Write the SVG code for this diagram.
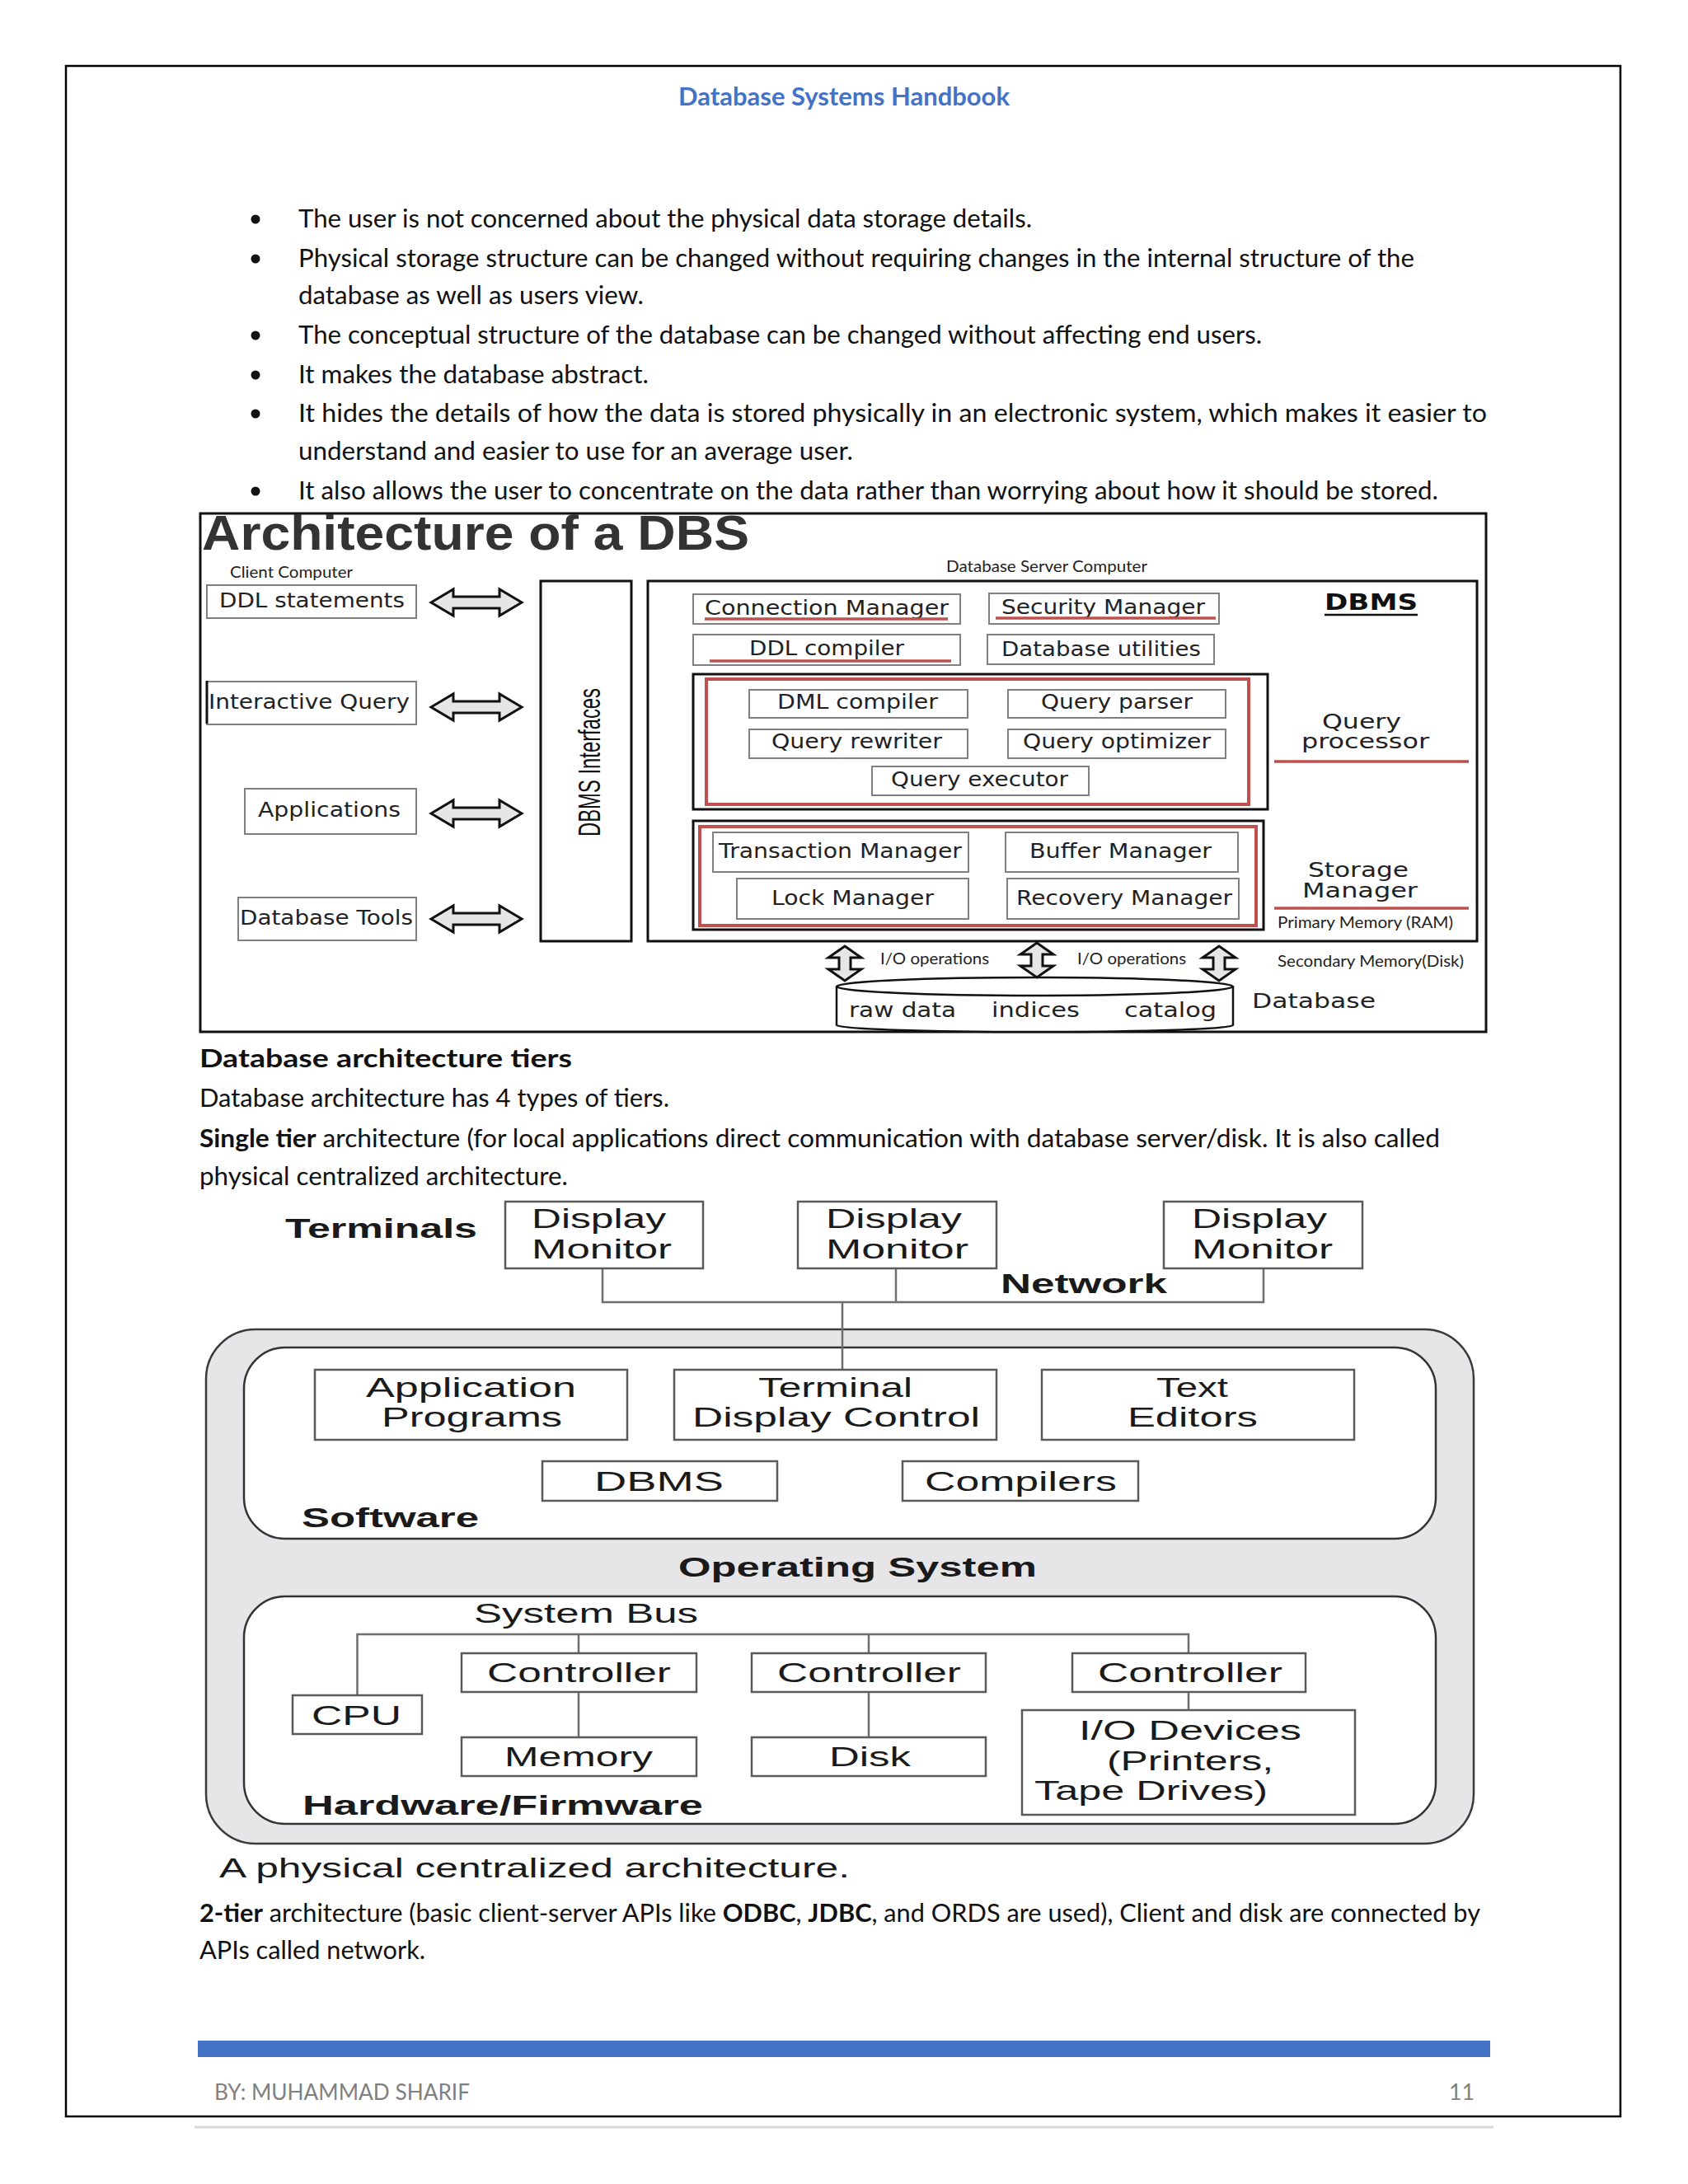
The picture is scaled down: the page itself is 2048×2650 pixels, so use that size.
<svg xmlns="http://www.w3.org/2000/svg" width="2048" height="2650" viewBox="0 0 2048 2650">
<style>
.body{font-family:Lato,"Liberation Sans",sans-serif;font-size:30px;fill:#111}
.b{font-weight:bold}
.hdr{font-family:Lato,"Liberation Sans",sans-serif;font-size:30px;font-weight:bold;fill:#4472C4}
.ftr{font-family:Lato,"Liberation Sans",sans-serif;font-size:26px;fill:#808080}
.sm{font-family:Lato,"Liberation Sans",sans-serif;font-size:19px;fill:#222}
.lbl{font-family:"DejaVu Sans",sans-serif;font-size:24px;fill:#222}
.ca{font-family:"Liberation Sans",Arial,sans-serif;font-size:33px;fill:#1a1a1a}
.box{fill:#fff;stroke:#808080;stroke-width:2}
.blk{fill:none;stroke:#111;stroke-width:3}
.red{fill:none;stroke:#c0504d;stroke-width:4}
.redl{stroke:#c0504d;stroke-width:3.5}
.net{fill:none;stroke:#6e6e6e;stroke-width:2.5}
.cbox{fill:#fff;stroke:#5a5a5a;stroke-width:2.5}
.arr{fill:#e6e6e6;stroke:#111;stroke-width:3;stroke-linejoin:miter}
</style>
<defs>
<polygon id="harrow" class="arr" points="-55,0 -28,-16 -28,-7 28,-7 28,-16 55,0 28,16 28,7 -28,7 -28,16"/>
<polygon id="varrow" class="arr" points="0,-21 20,-7 7,-7 7,7 20,7 0,21 -20,7 -7,7 -7,-7 -20,-7"/>
</defs>
<rect x="0" y="0" width="2048" height="2650" fill="#fff"/>
<rect x="80" y="80" width="1886" height="2488" fill="none" stroke="#000" stroke-width="2.5"/>
<text class="hdr" x="823" y="128" textLength="402" lengthAdjust="spacingAndGlyphs">Database Systems Handbook</text>

<g id="bullets">
<circle cx="310" cy="266" r="5.5" fill="#111"/>
<circle cx="310" cy="314" r="5.5" fill="#111"/>
<circle cx="310" cy="407" r="5.5" fill="#111"/>
<circle cx="310" cy="455" r="5.5" fill="#111"/>
<circle cx="310" cy="502" r="5.5" fill="#111"/>
<circle cx="310" cy="596" r="5.5" fill="#111"/>
<text class="body" x="362" y="276" textLength="890" lengthAdjust="spacingAndGlyphs">The user is not concerned about the physical data storage details.</text>
<text class="body" x="362" y="324" textLength="1354" lengthAdjust="spacingAndGlyphs">Physical storage structure can be changed without requiring changes in the internal structure of the</text>
<text class="body" x="362" y="369" textLength="419" lengthAdjust="spacingAndGlyphs">database as well as users view.</text>
<text class="body" x="362" y="417" textLength="1169" lengthAdjust="spacingAndGlyphs">The conceptual structure of the database can be changed without affecting end users.</text>
<text class="body" x="362" y="465" textLength="425" lengthAdjust="spacingAndGlyphs">It makes the database abstract.</text>
<text class="body" x="362" y="512" textLength="1442" lengthAdjust="spacingAndGlyphs">It hides the details of how the data is stored physically in an electronic system, which makes it easier to</text>
<text class="body" x="362" y="558" textLength="673" lengthAdjust="spacingAndGlyphs">understand and easier to use for an average user.</text>
<text class="body" x="362" y="606" textLength="1383" lengthAdjust="spacingAndGlyphs">It also allows the user to concentrate on the data rather than worrying about how it should be stored.</text>
</g>

<!-- Architecture of a DBS -->
<g id="dbs-frame">
<rect x="243" y="623" width="1560" height="629" fill="#fff" stroke="#111" stroke-width="3"/>
<text x="245" y="667" font-family="'Liberation Sans',Arial,sans-serif" font-size="59" font-weight="bold" fill="#333" textLength="664" lengthAdjust="spacingAndGlyphs">Architecture of a DBS</text>
<text class="sm" x="279" y="701" textLength="149" lengthAdjust="spacingAndGlyphs">Client Computer</text>
<text class="sm" x="1148" y="694" textLength="244" lengthAdjust="spacingAndGlyphs">Database Server Computer</text>
</g>
<g id="ddl-statements"><rect class="box" x="251" y="710" width="254" height="40"/><text class="lbl" x="266" y="737" textLength="225" lengthAdjust="spacingAndGlyphs">DDL statements</text></g>
<g id="interactive-query"><rect class="box" x="251" y="827" width="254" height="52"/><line x1="251" y1="826" x2="251" y2="878" stroke="#111" stroke-width="3"/><text class="lbl" x="253" y="860" textLength="244" lengthAdjust="spacingAndGlyphs">Interactive Query</text></g>
<g id="applications"><rect class="box" x="297" y="957" width="208" height="55"/><text class="lbl" x="313" y="991" textLength="173" lengthAdjust="spacingAndGlyphs">Applications</text></g>
<g id="database-tools"><rect class="box" x="289" y="1089" width="216" height="52"/><text class="lbl" x="291" y="1122" textLength="210" lengthAdjust="spacingAndGlyphs">Database Tools</text></g>
<g id="dbms-interfaces"><rect x="656" y="705" width="110" height="437" class="blk"/><text transform="translate(728,925) rotate(-90)" text-anchor="middle" font-family="'Liberation Sans',Arial,sans-serif" font-size="36" fill="#111" textLength="180" lengthAdjust="spacingAndGlyphs">DBMS Interfaces</text></g>
<g id="dbms">
<rect x="786" y="705" width="1006" height="437" class="blk"/>
<text x="1607" y="740" font-family="'DejaVu Sans',sans-serif" font-size="26" font-weight="bold" fill="#111" textLength="113" lengthAdjust="spacingAndGlyphs">DBMS</text>
<line x1="1607" y1="746" x2="1720" y2="746" stroke="#111" stroke-width="2.5"/>
</g>
<g id="connection-manager"><rect class="box" x="841" y="721" width="324" height="36"/><text class="lbl" x="855" y="746" textLength="296" lengthAdjust="spacingAndGlyphs">Connection Manager</text><line class="redl" x1="855" y1="751" x2="1150" y2="751"/></g>
<g id="security-manager"><rect class="box" x="1200" y="720" width="279" height="37"/><text class="lbl" x="1215" y="745" textLength="247" lengthAdjust="spacingAndGlyphs">Security Manager</text><line class="redl" x1="1208" y1="750" x2="1475" y2="750"/></g>
<g id="ddl-compiler"><rect class="box" x="841" y="770" width="324" height="37"/><text class="lbl" x="909" y="795" textLength="188" lengthAdjust="spacingAndGlyphs">DDL compiler</text><line class="redl" x1="861" y1="802" x2="1154" y2="802"/></g>
<g id="database-utilities"><rect class="box" x="1198" y="770" width="275" height="36"/><text class="lbl" x="1215" y="796" textLength="242" lengthAdjust="spacingAndGlyphs">Database utilities</text></g>
<g id="query-processor">
<rect x="841" y="818" width="697" height="164" class="blk"/>
<rect x="857" y="824" width="658" height="152" class="red"/>
<text class="lbl" x="1604" y="884" font-size="27" textLength="96" lengthAdjust="spacingAndGlyphs">Query</text>
<text class="lbl" x="1579" y="908" font-size="27" textLength="155" lengthAdjust="spacingAndGlyphs">processor</text>
<line class="redl" x1="1546" y1="924" x2="1782" y2="924" stroke-width="4"/>
</g>
<g id="dml-compiler"><rect class="box" x="909" y="837" width="265" height="34"/><text class="lbl" x="943" y="860" textLength="195" lengthAdjust="spacingAndGlyphs">DML compiler</text></g>
<g id="query-parser"><rect class="box" x="1223" y="837" width="264" height="34"/><text class="lbl" x="1263" y="860" textLength="184" lengthAdjust="spacingAndGlyphs">Query parser</text></g>
<g id="query-rewriter"><rect class="box" x="909" y="885" width="265" height="35"/><text class="lbl" x="936" y="908" textLength="207" lengthAdjust="spacingAndGlyphs">Query rewriter</text></g>
<g id="query-optimizer"><rect class="box" x="1223" y="885" width="264" height="35"/><text class="lbl" x="1241" y="908" textLength="228" lengthAdjust="spacingAndGlyphs">Query optimizer</text></g>
<g id="query-executor"><rect class="box" x="1058" y="930" width="263" height="35"/><text class="lbl" x="1081" y="954" textLength="215" lengthAdjust="spacingAndGlyphs">Query executor</text></g>
<g id="storage-manager">
<rect x="841" y="996" width="692" height="132" class="blk"/>
<rect x="849" y="1003" width="675" height="120" class="red"/>
<text class="lbl" x="1587" y="1064" font-size="27" textLength="122" lengthAdjust="spacingAndGlyphs">Storage</text>
<text class="lbl" x="1580" y="1089" font-size="27" textLength="140" lengthAdjust="spacingAndGlyphs">Manager</text>
<line class="redl" x1="1546" y1="1102" x2="1782" y2="1102" stroke-width="4"/>
<text class="sm" x="1550" y="1126" textLength="213" lengthAdjust="spacingAndGlyphs">Primary Memory (RAM)</text>
</g>
<g id="transaction-manager"><rect class="box" x="865" y="1010" width="310" height="48"/><text class="lbl" x="872" y="1041" textLength="295" lengthAdjust="spacingAndGlyphs">Transaction Manager</text></g>
<g id="buffer-manager"><rect class="box" x="1220" y="1010" width="282" height="48"/><text class="lbl" x="1249" y="1041" textLength="221" lengthAdjust="spacingAndGlyphs">Buffer Manager</text></g>
<g id="lock-manager"><rect class="box" x="894" y="1066" width="281" height="49"/><text class="lbl" x="936" y="1098" textLength="197" lengthAdjust="spacingAndGlyphs">Lock Manager</text></g>
<g id="recovery-manager"><rect class="box" x="1222" y="1066" width="281" height="49"/><text class="lbl" x="1233" y="1098" textLength="262" lengthAdjust="spacingAndGlyphs">Recovery Manager</text></g>
<g id="database">
<path d="M1015,1197 L1015,1244 A240.5,8 0 0 0 1496,1244 L1496,1197" fill="#fff" stroke="#111" stroke-width="2.5"/>
<ellipse cx="1255.5" cy="1197" rx="240.5" ry="11" fill="#fff" stroke="#111" stroke-width="2.5"/>
<text class="lbl" x="1030" y="1234" font-size="29" textLength="130" lengthAdjust="spacingAndGlyphs">raw data</text>
<text class="lbl" x="1203" y="1234" font-size="29" textLength="107" lengthAdjust="spacingAndGlyphs">indices</text>
<text class="lbl" x="1364" y="1234" font-size="29" textLength="112" lengthAdjust="spacingAndGlyphs">catalog</text>
<text class="lbl" x="1519" y="1223" font-size="28" textLength="150" lengthAdjust="spacingAndGlyphs">Database</text>
<text class="sm" x="1550" y="1173" textLength="226" lengthAdjust="spacingAndGlyphs">Secondary Memory(Disk)</text>
</g>
<g id="dbs-connectors">
<use href="#harrow" x="578" y="731"/>
<use href="#harrow" x="578" y="858"/>
<use href="#harrow" x="578" y="987"/>
<use href="#harrow" x="578" y="1115"/>
<use href="#varrow" x="1025" y="1169"/>
<use href="#varrow" x="1258" y="1165"/>
<use href="#varrow" x="1479" y="1169"/>
<text class="sm" x="1068" y="1170" textLength="132" lengthAdjust="spacingAndGlyphs">I/O operations</text>
<text class="sm" x="1307" y="1170" textLength="132" lengthAdjust="spacingAndGlyphs">I/O operations</text>
</g>

<g id="tiers-text">
<text class="body b" x="242" y="1295" font-size="35" textLength="452" lengthAdjust="spacingAndGlyphs">Database architecture tiers</text>
<text class="body" x="242" y="1343" textLength="570" lengthAdjust="spacingAndGlyphs">Database architecture has 4 types of tiers.</text>
<text class="body" x="242" y="1392" textLength="1505" lengthAdjust="spacingAndGlyphs"><tspan font-weight="bold">Single tier</tspan> architecture (for local applications direct communication with database server/disk. It is also called</text>
<text class="body" x="242" y="1438" textLength="447" lengthAdjust="spacingAndGlyphs">physical centralized architecture.</text>
</g>

<!-- Centralized architecture -->
<g id="os">
<rect x="250" y="1613" width="1538" height="624" rx="60" fill="#e6e6e9" stroke="#3a3a3a" stroke-width="2.5"/>
<text class="ca b" x="823" y="1913" textLength="435" lengthAdjust="spacingAndGlyphs">Operating System</text>
</g>
<g id="software">
<rect x="296" y="1635" width="1446" height="232" rx="50" fill="#fff" stroke="#333" stroke-width="2.5"/>
<text class="ca b" x="366" y="1853" textLength="215" lengthAdjust="spacingAndGlyphs">Software</text>
</g>
<g id="hardware">
<rect x="296" y="1937" width="1446" height="276" rx="50" fill="#fff" stroke="#333" stroke-width="2.5"/>
<text class="ca b" x="367" y="2202" textLength="486" lengthAdjust="spacingAndGlyphs">Hardware/Firmware</text>
<text class="ca" x="575" y="1969" textLength="272" lengthAdjust="spacingAndGlyphs">System Bus</text>
</g>
<g id="connectors">
<polyline class="net" points="731,1539 731,1580 1533,1580 1533,1539"/>
<line class="net" x1="1087" y1="1539" x2="1087" y2="1580"/>
<line class="net" x1="1022" y1="1580" x2="1022" y2="1662"/>
<polyline class="net" points="433.5,2057 433.5,1983 1442,1983 1442,2006"/>
<line class="net" x1="702" y1="1983" x2="702" y2="2006"/>
<line class="net" x1="1054" y1="1983" x2="1054" y2="2006"/>
<line class="net" x1="702" y1="2053" x2="702" y2="2108"/>
<line class="net" x1="1054" y1="2053" x2="1054" y2="2108"/>
<line class="net" x1="1442" y1="2053" x2="1442" y2="2075"/>
</g>
<g id="terminals-label"><text class="ca b" x="346" y="1502" textLength="233" lengthAdjust="spacingAndGlyphs">Terminals</text></g>
<g id="network-label"><text class="ca b" x="1214" y="1569" textLength="202" lengthAdjust="spacingAndGlyphs">Network</text></g>
<g id="monitor-1"><rect class="cbox" x="613" y="1458" width="240" height="81"/><text class="ca" x="645" y="1490" textLength="163" lengthAdjust="spacingAndGlyphs">Display</text><text class="ca" x="645" y="1527" textLength="170" lengthAdjust="spacingAndGlyphs">Monitor</text></g>
<g id="monitor-2"><rect class="cbox" x="968" y="1458" width="241" height="81"/><text class="ca" x="1002" y="1490" textLength="165" lengthAdjust="spacingAndGlyphs">Display</text><text class="ca" x="1002" y="1527" textLength="173" lengthAdjust="spacingAndGlyphs">Monitor</text></g>
<g id="monitor-3"><rect class="cbox" x="1412" y="1458" width="241" height="81"/><text class="ca" x="1446" y="1490" textLength="164" lengthAdjust="spacingAndGlyphs">Display</text><text class="ca" x="1446" y="1527" textLength="171" lengthAdjust="spacingAndGlyphs">Monitor</text></g>
<g id="application-programs"><rect class="cbox" x="382" y="1662" width="379" height="85"/><text class="ca" x="444" y="1695" textLength="255" lengthAdjust="spacingAndGlyphs">Application</text><text class="ca" x="463" y="1731" textLength="219" lengthAdjust="spacingAndGlyphs">Programs</text></g>
<g id="terminal-display-control"><rect class="cbox" x="818" y="1662" width="391" height="85"/><text class="ca" x="920" y="1695" textLength="187" lengthAdjust="spacingAndGlyphs">Terminal</text><text class="ca" x="840" y="1731" textLength="349" lengthAdjust="spacingAndGlyphs">Display Control</text></g>
<g id="text-editors"><rect class="cbox" x="1264" y="1662" width="379" height="85"/><text class="ca" x="1403" y="1695" textLength="87" lengthAdjust="spacingAndGlyphs">Text</text><text class="ca" x="1368" y="1731" textLength="158" lengthAdjust="spacingAndGlyphs">Editors</text></g>
<g id="dbms-box"><rect class="cbox" x="658" y="1773" width="285" height="48"/><text class="ca" x="721" y="1809" textLength="157" lengthAdjust="spacingAndGlyphs">DBMS</text></g>
<g id="compilers"><rect class="cbox" x="1095" y="1773" width="286" height="48"/><text class="ca" x="1122" y="1809" textLength="233" lengthAdjust="spacingAndGlyphs">Compilers</text></g>
<g id="cpu"><rect class="cbox" x="355" y="2057" width="157" height="47"/><text class="ca" x="378" y="2093" textLength="109" lengthAdjust="spacingAndGlyphs">CPU</text></g>
<g id="controller-1"><rect class="cbox" x="560" y="2006" width="285" height="47"/><text class="ca" x="591" y="2041" textLength="223" lengthAdjust="spacingAndGlyphs">Controller</text></g>
<g id="memory"><rect class="cbox" x="560" y="2108" width="285" height="47"/><text class="ca" x="612" y="2143" textLength="180" lengthAdjust="spacingAndGlyphs">Memory</text></g>
<g id="controller-2"><rect class="cbox" x="912" y="2006" width="284" height="47"/><text class="ca" x="943" y="2041" textLength="223" lengthAdjust="spacingAndGlyphs">Controller</text></g>
<g id="disk"><rect class="cbox" x="912" y="2108" width="284" height="47"/><text class="ca" x="1006" y="2143" textLength="99" lengthAdjust="spacingAndGlyphs">Disk</text></g>
<g id="controller-3"><rect class="cbox" x="1301" y="2006" width="283" height="47"/><text class="ca" x="1332" y="2041" textLength="224" lengthAdjust="spacingAndGlyphs">Controller</text></g>
<g id="io-devices"><rect class="cbox" x="1240" y="2075" width="404" height="127"/><text class="ca" x="1309" y="2111" textLength="270" lengthAdjust="spacingAndGlyphs">I/O Devices</text><text class="ca" x="1343" y="2148" textLength="202" lengthAdjust="spacingAndGlyphs">(Printers,</text><text class="ca" x="1255" y="2184" textLength="283" lengthAdjust="spacingAndGlyphs">Tape Drives)</text></g>
<text class="ca" x="266" y="2278" font-size="35" fill="#222" textLength="765" lengthAdjust="spacingAndGlyphs">A physical centralized architecture.</text>

<g id="two-tier-text">
<text class="body" x="242" y="2332" textLength="1554" lengthAdjust="spacingAndGlyphs"><tspan font-weight="bold">2-tier</tspan> architecture (basic client-server APIs like <tspan font-weight="bold">ODBC</tspan>, <tspan font-weight="bold">JDBC</tspan>, and ORDS are used), Client and disk are connected by</text>
<text class="body" x="242" y="2377" textLength="274" lengthAdjust="spacingAndGlyphs">APIs called network.</text>
</g>

<g id="footer">
<rect x="240" y="2476" width="1568" height="20" fill="#4472C4"/>
<text class="ftr" x="260" y="2548" textLength="310" lengthAdjust="spacingAndGlyphs">BY: MUHAMMAD SHARIF</text>
<text class="ftr" x="1758" y="2548" textLength="31" lengthAdjust="spacingAndGlyphs">11</text>
</g>
<line x1="236" y1="2581" x2="1812" y2="2581" stroke="#d9d9d9" stroke-width="3"/>
</svg>
